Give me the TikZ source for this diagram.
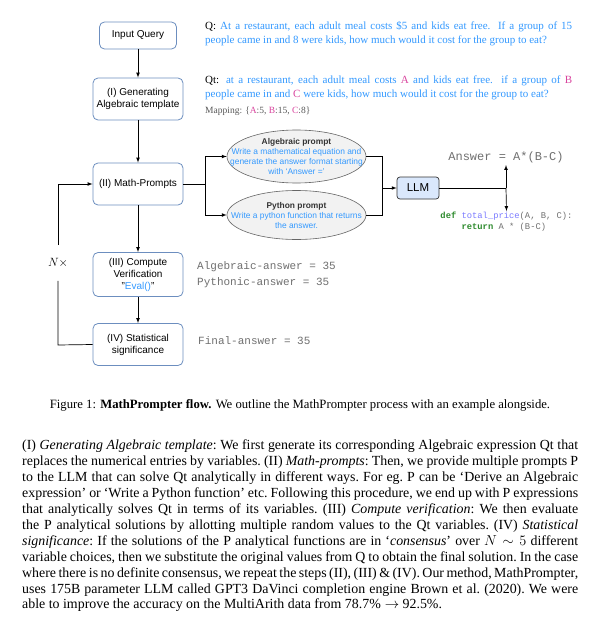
\documentclass[tikz,border=0pt]{standalone}
\usepackage{fontspec}
\setmainfont{Liberation Serif}
\setsansfont{Liberation Sans}
\setmonofont{Liberation Mono}
\usepackage{amsmath}
\usepackage{xcolor}
\usetikzlibrary{arrows}
\usetikzlibrary{shapes.geometric}
\usetikzlibrary{positioning}

\definecolor{boxblue}{HTML}{6C8EBF}
\definecolor{llmfill}{HTML}{DAE8FC}
\definecolor{qblue}{HTML}{3399FF}
\definecolor{varpink}{HTML}{D9449E}
\definecolor{codegray}{HTML}{707070}
\definecolor{ellfill}{HTML}{F2F2F2}
\definecolor{kwgreen}{HTML}{2E8B2E}
\definecolor{fnblue}{HTML}{7B7BFF}
\definecolor{titlegray}{HTML}{333333}

\newcommand{\pvar}[1]{\textcolor{varpink}{#1}}

\begin{document}
\begin{tikzpicture}[x=1pt, y=-1pt,
	stepbox/.style={draw=boxblue, fill=white, rounded corners=5pt, line width=0.8pt, minimum width=90pt, minimum height=42pt, align=center, inner sep=1pt, font=\sffamily\fontsize{10}{12}\selectfont},
	promptell/.style={ellipse, draw=black!60, fill=ellfill, line width=0.6pt, minimum width=139pt, inner sep=0pt},
	prompttext/.style={align=center, inner sep=0pt, font=\sffamily\fontsize{8.4}{10}\selectfont},
	monotext/.style={text=codegray, inner sep=0pt, font=\ttfamily\fontsize{11}{13}\selectfont},
	qtext/.style={text width=367pt, align=justify, inner sep=0pt, font=\fontsize{11}{14}\selectfont},
	flow/.style={-latex, line width=0.7pt},
	wire/.style={line width=0.7pt}]
	\fill[white] (0,0) rectangle (600,621);
	\useasboundingbox (0,0) rectangle (600,621);
	
	\node[stepbox, minimum width=77pt, minimum height=27pt] (query) at (138,35.5) {Input Query};
	\node[stepbox] (gen) at (138,99) {(I) Generating\\Algebraic template};
	\node[stepbox] (prompts) at (138,184) {(II) Math-Prompts};
	\node[stepbox, minimum height=44pt] (verify) at (138,274.5) {(III) Compute\\Verification\\"\textcolor{qblue}{Eval()}"};
	\node[stepbox] (stat) at (138,344.5) {(IV) Statistical\\significance};
	
	\draw[flow] (query) -- (gen);
	\draw[flow] (gen) -- (prompts);
	\draw[flow] (prompts) -- (verify);
	\draw[flow] (verify) -- (stat);
	
	\node[inner xsep=1pt, inner ysep=13pt, font=\fontsize{12}{14}\selectfont] (times) at (58,263) {$N\times$};
	\coordinate (loopbot) at (58,345);
	\coordinate (looptop) at (58,184);
	\draw[wire] (stat.west) -- (loopbot) -- (times.south);
	\draw[flow] (times.north) -- (looptop) -- (prompts.west);
	
	\node[qtext, anchor=north west] (q) at (205,21) {Q: \textcolor{qblue}{At a restaurant, each adult meal costs \$5 and kids eat free.  If a group of 15\linebreak people came in and 8 were kids, how much would it cost for the group to eat?}};
	\node[qtext, anchor=north west] (qt) at (205,76) {Qt: \textcolor{qblue}{at a restaurant, each adult meal costs \pvar{A} and kids eat free.  if a group of \pvar{B}\linebreak people came in and \pvar{C} were kids, how much would it cost for the group to eat?}};
	\node[anchor=base west, inner sep=0pt, text=black!65, font=\fontsize{9.5}{12}\selectfont] (map) at (205,113) {Mapping: \{\pvar{A}:5, \pvar{B}:15, \pvar{C}:8\}};
	
	\node[promptell, minimum height=53pt] (alg) at (296.5,156.5) {};
	\node[prompttext] (algtxt) at (alg) {\textcolor{titlegray}{\bfseries Algebraic prompt}\\\textcolor{qblue}{Write a mathematical equation and}\\\textcolor{qblue}{generate the answer format starting}\\\textcolor{qblue}{with `Answer ='}};
	\node[promptell, minimum height=49pt] (py) at (296.5,215) {};
	\node[prompttext] (pytxt) at (py) {\textcolor{titlegray}{\bfseries Python prompt}\\\textcolor{qblue}{Write a python function that returns}\\\textcolor{qblue}{the answer.}};
	
	\coordinate (fork) at (205,184);
	\coordinate (join) at (382,188);
	\draw[wire] (prompts.east) -- (fork);
	\draw[flow] (fork) |- (alg.west);
	\draw[flow] (fork) |- (py.west);
	\draw[wire] (alg.east) -| (join);
	\draw[wire] (py.east) -| (join);
	
	\node[draw=black!80, fill=llmfill, rounded corners=3pt, line width=0.7pt, minimum width=42pt, minimum height=22pt, inner sep=1pt, font=\sffamily\fontsize{11.5}{13}\selectfont] (llm) at (418,188) {LLM};
	\draw[flow] (join) -- (llm.west);
	
	\node[monotext, anchor=south, inner sep=2pt, font=\ttfamily\fontsize{12}{14}\selectfont] (ans) at (506,165) {Answer = A*(B-C)};
	\node[monotext, anchor=north, inner sep=1pt, align=left, font=\ttfamily\fontsize{8.8}{11}\selectfont] (code) at (506.5,211) {\textcolor{kwgreen}{\bfseries def} \textcolor{fnblue}{total\_price}(A, B, C):\\\hspace*{2.4em}\textcolor{kwgreen}{\bfseries return} A * (B-C)};
	\coordinate (split) at (506,188);
	\draw[wire] (llm.east) -- (split);
	\draw[flow] (split) -- (ans.south);
	\draw[flow] (split) -- (code.north);
	
	\node[monotext, anchor=west] (algans) at (197,267) {Algebraic-answer = 35};
	\node[monotext, anchor=west] (pyans) at (197,283) {Pythonic-answer = 35};
	\node[monotext, anchor=west] (finalans) at (198,341) {Final-answer = 35};
	
	\node[inner sep=0pt, font=\fontsize{12.7}{15}\selectfont] (caption) at (300,405) {Figure 1: \textbf{MathPrompter flow.} We outline the MathPrompter process with an example alongside.};
	
	\node[anchor=north west, text width=556pt, align=justify, inner sep=0pt, font=\fontsize{13.9}{15.9}\selectfont\frenchspacing] (body) at (22,440) {(I) \textit{Generating Algebraic template}: We first generate its corresponding Algebraic expression Qt that\linebreak
	replaces the numerical entries by variables. (II) \textit{Math-prompts}: Then, we provide multiple prompts P\linebreak
	to the LLM that can solve Qt analytically in different ways. For eg. P can be `Derive an Algebraic\linebreak
	expression' or `Write a Python function' etc. Following this procedure, we end up with P expressions\linebreak
	that analytically solves Qt in terms of its variables. (III) \textit{Compute verification}: We then evaluate\linebreak
	the P analytical solutions by allotting multiple random values to the Qt variables. (IV) \textit{Statistical\linebreak
	significance}: If the solutions of the P analytical functions are in `\textit{consensus}' over $N\sim5$ different\linebreak
	variable choices, then we substitute the original values from Q to obtain the final solution. In the case\linebreak
	where there is no definite consensus, we repeat the steps (II), (III) \& (IV). Our method, MathPrompter,\linebreak
	uses 175B parameter LLM called GPT3 DaVinci completion engine Brown et al. (2020). We were\linebreak
	able to improve the accuracy on the MultiArith data from 78.7$\%\rightarrow$ 92.5$\%$.};
\end{tikzpicture}
\end{document}
